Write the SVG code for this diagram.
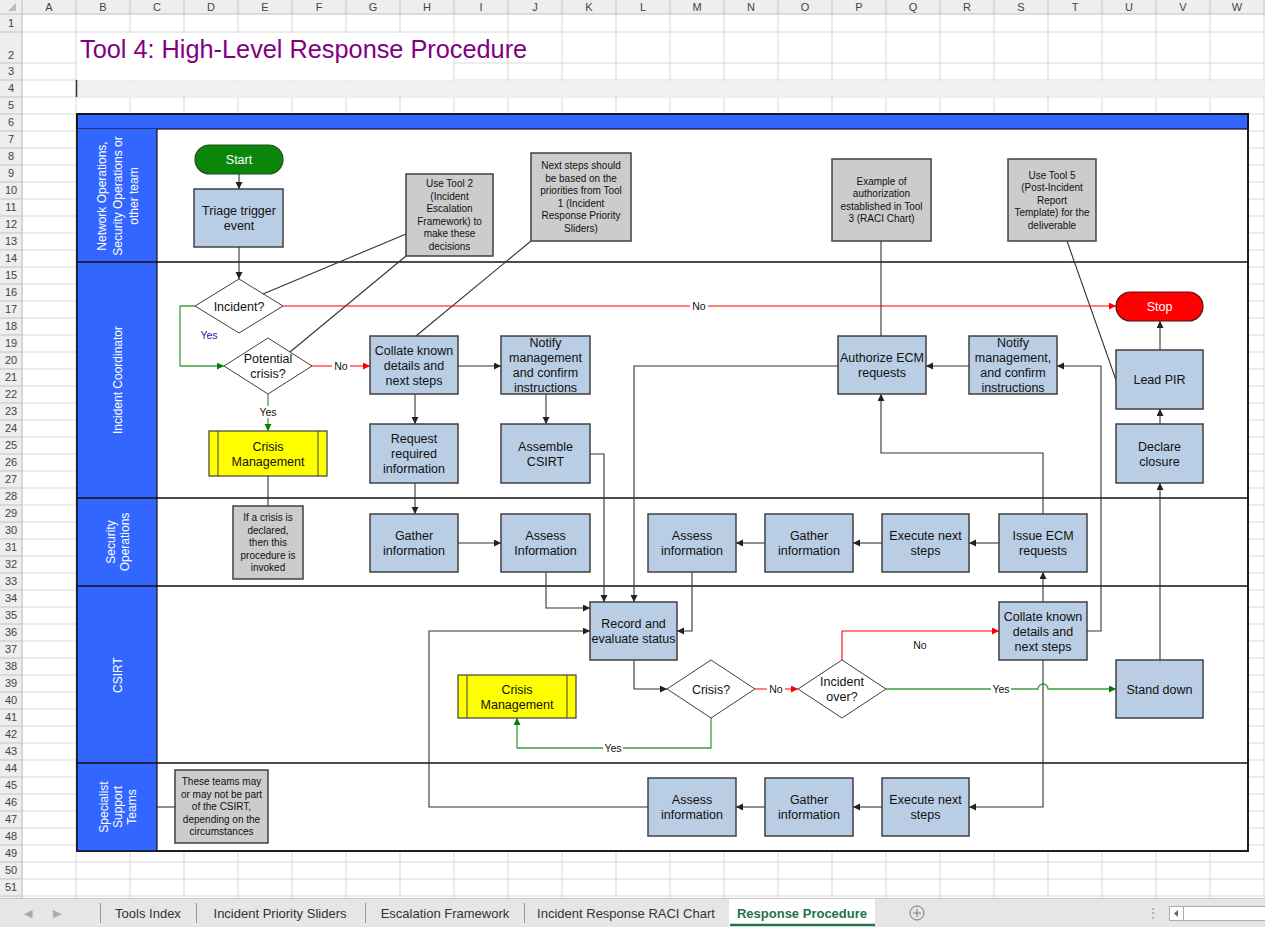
<svg xmlns="http://www.w3.org/2000/svg" width="1265" height="927" viewBox="0 0 1265 927">
<style>
text{font-family:"Liberation Sans",Arial,sans-serif}
.grid line{stroke:#D9D9D9;stroke-width:1}
.hsep line{stroke:#C4C4C4;stroke-width:1}
.hdr{fill:#444;font-size:11px;text-anchor:middle}
.box{fill:#B9CDE5;stroke:#404040;stroke-width:1.5}
.note{fill:#CCCCCC;stroke:#404040;stroke-width:1.5}
.dia{fill:#FFFFFF;stroke:#404040;stroke-width:1}
.yel{fill:#FFFF00;stroke:#404040;stroke-width:1.2}
.t{font-size:12.5px;fill:#111;text-anchor:middle}
.nt{font-size:10px;fill:#111;text-anchor:middle}
.lane{fill:#3366FF}
.lt{font-size:12px;fill:#FFFFFF;text-anchor:middle}
.c{fill:none;stroke:#333;stroke-width:1.1}
.cr{fill:none;stroke:#FF0000;stroke-width:1.1}
.cg{fill:none;stroke:#3CA03C;stroke-width:1.3}
.lbl{font-size:10.5px;fill:#111;text-anchor:middle}
.tab{font-size:13px;fill:#333;text-anchor:middle}
</style>
<defs>
<marker id="ab" markerUnits="userSpaceOnUse" markerWidth="8" markerHeight="8" refX="7" refY="3.5" orient="auto"><path d="M0,0 L7,3.5 L0,7 z" fill="#222"/></marker>
<marker id="ar" markerUnits="userSpaceOnUse" markerWidth="8" markerHeight="8" refX="7" refY="3.5" orient="auto"><path d="M0,0 L7,3.5 L0,7 z" fill="#FF0000"/></marker>
<marker id="ag" markerUnits="userSpaceOnUse" markerWidth="8" markerHeight="8" refX="7" refY="3.5" orient="auto"><path d="M0,0 L7,3.5 L0,7 z" fill="#008000"/></marker>
</defs>

<!-- spreadsheet background -->
<rect x="0" y="0" width="1265" height="927" fill="#FFFFFF"/>
<g class="grid">
<line x1="22" y1="14" x2="22" y2="898"/><line x1="76" y1="14" x2="76" y2="898"/><line x1="130" y1="14" x2="130" y2="898"/><line x1="184" y1="14" x2="184" y2="898"/><line x1="238" y1="14" x2="238" y2="898"/><line x1="292" y1="14" x2="292" y2="898"/><line x1="346" y1="14" x2="346" y2="898"/><line x1="400" y1="14" x2="400" y2="898"/><line x1="454" y1="14" x2="454" y2="898"/><line x1="508" y1="14" x2="508" y2="898"/><line x1="562" y1="14" x2="562" y2="898"/><line x1="616" y1="14" x2="616" y2="898"/><line x1="670" y1="14" x2="670" y2="898"/><line x1="724" y1="14" x2="724" y2="898"/><line x1="778" y1="14" x2="778" y2="898"/><line x1="832" y1="14" x2="832" y2="898"/><line x1="886" y1="14" x2="886" y2="898"/><line x1="940" y1="14" x2="940" y2="898"/><line x1="994" y1="14" x2="994" y2="898"/><line x1="1048" y1="14" x2="1048" y2="898"/><line x1="1102" y1="14" x2="1102" y2="898"/><line x1="1156" y1="14" x2="1156" y2="898"/><line x1="1210" y1="14" x2="1210" y2="898"/><line x1="1264" y1="14" x2="1264" y2="898"/>
<line x1="0" y1="32" x2="1265" y2="32"/><line x1="0" y1="63" x2="1265" y2="63"/><line x1="0" y1="80" x2="1265" y2="80"/><line x1="0" y1="97" x2="1265" y2="97"/><line x1="0" y1="114" x2="1265" y2="114"/><line x1="0" y1="131" x2="1265" y2="131"/><line x1="0" y1="148" x2="1265" y2="148"/><line x1="0" y1="165" x2="1265" y2="165"/><line x1="0" y1="182" x2="1265" y2="182"/><line x1="0" y1="199" x2="1265" y2="199"/><line x1="0" y1="216" x2="1265" y2="216"/><line x1="0" y1="233" x2="1265" y2="233"/><line x1="0" y1="250" x2="1265" y2="250"/><line x1="0" y1="267" x2="1265" y2="267"/><line x1="0" y1="284" x2="1265" y2="284"/><line x1="0" y1="301" x2="1265" y2="301"/><line x1="0" y1="318" x2="1265" y2="318"/><line x1="0" y1="335" x2="1265" y2="335"/><line x1="0" y1="352" x2="1265" y2="352"/><line x1="0" y1="369" x2="1265" y2="369"/><line x1="0" y1="386" x2="1265" y2="386"/><line x1="0" y1="403" x2="1265" y2="403"/><line x1="0" y1="420" x2="1265" y2="420"/><line x1="0" y1="437" x2="1265" y2="437"/><line x1="0" y1="454" x2="1265" y2="454"/><line x1="0" y1="471" x2="1265" y2="471"/><line x1="0" y1="488" x2="1265" y2="488"/><line x1="0" y1="505" x2="1265" y2="505"/><line x1="0" y1="522" x2="1265" y2="522"/><line x1="0" y1="539" x2="1265" y2="539"/><line x1="0" y1="556" x2="1265" y2="556"/><line x1="0" y1="573" x2="1265" y2="573"/><line x1="0" y1="590" x2="1265" y2="590"/><line x1="0" y1="607" x2="1265" y2="607"/><line x1="0" y1="624" x2="1265" y2="624"/><line x1="0" y1="641" x2="1265" y2="641"/><line x1="0" y1="658" x2="1265" y2="658"/><line x1="0" y1="675" x2="1265" y2="675"/><line x1="0" y1="692" x2="1265" y2="692"/><line x1="0" y1="709" x2="1265" y2="709"/><line x1="0" y1="726" x2="1265" y2="726"/><line x1="0" y1="743" x2="1265" y2="743"/><line x1="0" y1="760" x2="1265" y2="760"/><line x1="0" y1="777" x2="1265" y2="777"/><line x1="0" y1="794" x2="1265" y2="794"/><line x1="0" y1="811" x2="1265" y2="811"/><line x1="0" y1="828" x2="1265" y2="828"/><line x1="0" y1="845" x2="1265" y2="845"/><line x1="0" y1="862" x2="1265" y2="862"/><line x1="0" y1="879" x2="1265" y2="879"/><line x1="0" y1="896" x2="1265" y2="896"/>
</g>
<!-- title merged cell and row 4 band -->
<rect x="77" y="33" width="376" height="47" fill="#FFFFFF"/>
<rect x="77" y="81" width="1188" height="16" fill="#F0F0F0"/>
<line x1="76.5" y1="80" x2="76.5" y2="97" stroke="#333" stroke-width="1.5"/>
<text x="80" y="57.5" font-size="25.3" fill="#800080">Tool 4: High-Level Response Procedure</text>

<!-- headers -->
<rect x="0" y="0" width="1265" height="14" fill="#EEEEEE"/>
<rect x="0" y="14" width="22" height="884" fill="#EEEEEE"/>
<g class="hsep">
<line x1="76" y1="0" x2="76" y2="14"/><line x1="130" y1="0" x2="130" y2="14"/><line x1="184" y1="0" x2="184" y2="14"/><line x1="238" y1="0" x2="238" y2="14"/><line x1="292" y1="0" x2="292" y2="14"/><line x1="346" y1="0" x2="346" y2="14"/><line x1="400" y1="0" x2="400" y2="14"/><line x1="454" y1="0" x2="454" y2="14"/><line x1="508" y1="0" x2="508" y2="14"/><line x1="562" y1="0" x2="562" y2="14"/><line x1="616" y1="0" x2="616" y2="14"/><line x1="670" y1="0" x2="670" y2="14"/><line x1="724" y1="0" x2="724" y2="14"/><line x1="778" y1="0" x2="778" y2="14"/><line x1="832" y1="0" x2="832" y2="14"/><line x1="886" y1="0" x2="886" y2="14"/><line x1="940" y1="0" x2="940" y2="14"/><line x1="994" y1="0" x2="994" y2="14"/><line x1="1048" y1="0" x2="1048" y2="14"/><line x1="1102" y1="0" x2="1102" y2="14"/><line x1="1156" y1="0" x2="1156" y2="14"/><line x1="1210" y1="0" x2="1210" y2="14"/><line x1="1264" y1="0" x2="1264" y2="14"/>
<line x1="0" y1="32" x2="22" y2="32"/><line x1="0" y1="63" x2="22" y2="63"/><line x1="0" y1="80" x2="22" y2="80"/><line x1="0" y1="97" x2="22" y2="97"/><line x1="0" y1="114" x2="22" y2="114"/><line x1="0" y1="131" x2="22" y2="131"/><line x1="0" y1="148" x2="22" y2="148"/><line x1="0" y1="165" x2="22" y2="165"/><line x1="0" y1="182" x2="22" y2="182"/><line x1="0" y1="199" x2="22" y2="199"/><line x1="0" y1="216" x2="22" y2="216"/><line x1="0" y1="233" x2="22" y2="233"/><line x1="0" y1="250" x2="22" y2="250"/><line x1="0" y1="267" x2="22" y2="267"/><line x1="0" y1="284" x2="22" y2="284"/><line x1="0" y1="301" x2="22" y2="301"/><line x1="0" y1="318" x2="22" y2="318"/><line x1="0" y1="335" x2="22" y2="335"/><line x1="0" y1="352" x2="22" y2="352"/><line x1="0" y1="369" x2="22" y2="369"/><line x1="0" y1="386" x2="22" y2="386"/><line x1="0" y1="403" x2="22" y2="403"/><line x1="0" y1="420" x2="22" y2="420"/><line x1="0" y1="437" x2="22" y2="437"/><line x1="0" y1="454" x2="22" y2="454"/><line x1="0" y1="471" x2="22" y2="471"/><line x1="0" y1="488" x2="22" y2="488"/><line x1="0" y1="505" x2="22" y2="505"/><line x1="0" y1="522" x2="22" y2="522"/><line x1="0" y1="539" x2="22" y2="539"/><line x1="0" y1="556" x2="22" y2="556"/><line x1="0" y1="573" x2="22" y2="573"/><line x1="0" y1="590" x2="22" y2="590"/><line x1="0" y1="607" x2="22" y2="607"/><line x1="0" y1="624" x2="22" y2="624"/><line x1="0" y1="641" x2="22" y2="641"/><line x1="0" y1="658" x2="22" y2="658"/><line x1="0" y1="675" x2="22" y2="675"/><line x1="0" y1="692" x2="22" y2="692"/><line x1="0" y1="709" x2="22" y2="709"/><line x1="0" y1="726" x2="22" y2="726"/><line x1="0" y1="743" x2="22" y2="743"/><line x1="0" y1="760" x2="22" y2="760"/><line x1="0" y1="777" x2="22" y2="777"/><line x1="0" y1="794" x2="22" y2="794"/><line x1="0" y1="811" x2="22" y2="811"/><line x1="0" y1="828" x2="22" y2="828"/><line x1="0" y1="845" x2="22" y2="845"/><line x1="0" y1="862" x2="22" y2="862"/><line x1="0" y1="879" x2="22" y2="879"/><line x1="0" y1="896" x2="22" y2="896"/>
</g>
<line x1="0" y1="14" x2="1265" y2="14" stroke="#C0C0C0"/>
<line x1="22" y1="0" x2="22" y2="898" stroke="#C0C0C0"/>
<path d="M16,3 L16,11 L8,11 z" fill="#BDBDBD"/>
<g class="hdr">
<text x="49" y="11">A</text><text x="103" y="11">B</text><text x="157" y="11">C</text><text x="211" y="11">D</text><text x="265" y="11">E</text><text x="319" y="11">F</text><text x="373" y="11">G</text><text x="427" y="11">H</text><text x="481" y="11">I</text><text x="535" y="11">J</text><text x="589" y="11">K</text><text x="643" y="11">L</text><text x="697" y="11">M</text><text x="751" y="11">N</text><text x="805" y="11">O</text><text x="859" y="11">P</text><text x="913" y="11">Q</text><text x="967" y="11">R</text><text x="1021" y="11">S</text><text x="1075" y="11">T</text><text x="1129" y="11">U</text><text x="1183" y="11">V</text><text x="1237" y="11">W</text>
<text x="11" y="27">1</text><text x="11" y="59">2</text><text x="11" y="75">3</text><text x="11" y="92">4</text><text x="11" y="109">5</text><text x="11" y="126">6</text><text x="11" y="143">7</text><text x="11" y="160">8</text><text x="11" y="177">9</text><text x="11" y="194">10</text><text x="11" y="211">11</text><text x="11" y="228">12</text><text x="11" y="245">13</text><text x="11" y="262">14</text><text x="11" y="279">15</text><text x="11" y="296">16</text><text x="11" y="313">17</text><text x="11" y="330">18</text><text x="11" y="347">19</text><text x="11" y="364">20</text><text x="11" y="381">21</text><text x="11" y="398">22</text><text x="11" y="415">23</text><text x="11" y="432">24</text><text x="11" y="449">25</text><text x="11" y="466">26</text><text x="11" y="483">27</text><text x="11" y="500">28</text><text x="11" y="517">29</text><text x="11" y="534">30</text><text x="11" y="551">31</text><text x="11" y="568">32</text><text x="11" y="585">33</text><text x="11" y="602">34</text><text x="11" y="619">35</text><text x="11" y="636">36</text><text x="11" y="653">37</text><text x="11" y="670">38</text><text x="11" y="687">39</text><text x="11" y="704">40</text><text x="11" y="721">41</text><text x="11" y="738">42</text><text x="11" y="755">43</text><text x="11" y="772">44</text><text x="11" y="789">45</text><text x="11" y="806">46</text><text x="11" y="823">47</text><text x="11" y="840">48</text><text x="11" y="857">49</text><text x="11" y="874">50</text><text x="11" y="891">51</text>
</g>

<!-- pool and lanes -->
<g id="pool">
<rect x="77" y="114" width="1171" height="737" fill="#FFFFFF" stroke="#111" stroke-width="1.5"/>
<rect x="77" y="114" width="1171" height="15" fill="#3366FF" stroke="#111" stroke-width="1.2"/>
<rect class="lane" x="77" y="129" width="80" height="722"/>
<line x1="157" y1="129" x2="157" y2="851" stroke="#111" stroke-width="1.2"/>
<line x1="77" y1="262" x2="1248" y2="262" stroke="#111" stroke-width="1.5"/>
<line x1="77" y1="498" x2="1248" y2="498" stroke="#111" stroke-width="1.5"/>
<line x1="77" y1="586" x2="1248" y2="586" stroke="#111" stroke-width="1.5"/>
<line x1="77" y1="763" x2="1248" y2="763" stroke="#111" stroke-width="1.5"/>
<rect x="77" y="114" width="1171" height="737" fill="none" stroke="#111" stroke-width="1.5"/>
<text class="lt" transform="translate(117,196) rotate(-90)"><tspan x="0" y="-11.5">Network Operations,</tspan><tspan x="0" y="4.5">Security Operations or</tspan><tspan x="0" y="20.5">other team</tspan></text>
<text class="lt" transform="translate(117,380) rotate(-90)"><tspan x="0" y="4.5">Incident Coordinator</tspan></text>
<text class="lt" transform="translate(117,542) rotate(-90)"><tspan x="0" y="-2.5">Security</tspan><tspan x="0" y="11.5">Operations</tspan></text>
<text class="lt" transform="translate(117,675) rotate(-90)"><tspan x="0" y="4.5">CSIRT</tspan></text>
<text class="lt" transform="translate(117,807) rotate(-90)"><tspan x="0" y="-9.5">Specialist</tspan><tspan x="0" y="4.5">Support</tspan><tspan x="0" y="18.5">Teams</tspan></text>
</g>

<!-- connectors -->
<g id="connectors">
<path class="c" d="M239,174 V189" marker-end="url(#ab)"/>
<path class="c" d="M239,247 V279" marker-end="url(#ab)"/>
<path class="c" d="M406,234 L263,294"/>
<path class="c" d="M406,256 L290,352"/>
<path class="c" d="M531,241 L416,336"/>
<path class="c" d="M881,241 V336"/>
<path class="c" d="M1067,241 L1116,380"/>
<path class="cg" d="M196,306 H180 V366 H224" marker-end="url(#ag)"/>
<path class="cr" d="M283,306 H1116" marker-end="url(#ar)"/>
<path class="cr" d="M311,366 H370" marker-end="url(#ar)"/>
<path class="cg" d="M268,394 V431" marker-end="url(#ag)"/>
<path class="c" d="M268,476 V506"/>
<path class="c" d="M458,366 H501" marker-end="url(#ab)"/>
<path class="c" d="M415,394 V424" marker-end="url(#ab)"/>
<path class="c" d="M546,394 V424" marker-end="url(#ab)"/>
<path class="c" d="M415,483 V514" marker-end="url(#ab)"/>
<path class="c" d="M458,543 H501" marker-end="url(#ab)"/>
<path class="c" d="M546,572 V608 H590" marker-end="url(#ab)"/>
<path class="c" d="M590,454 H604 V602" marker-end="url(#ab)"/>
<path class="c" d="M838,366 H634 V602" marker-end="url(#ab)"/>
<path class="c" d="M692,572 V631 H677" marker-end="url(#ab)"/>
<path class="c" d="M648,807 H429 V631 H590" marker-end="url(#ab)"/>
<path class="c" d="M634,660 V689 H667" marker-end="url(#ab)"/>
<path class="cr" d="M755,689 H798" marker-end="url(#ar)"/>
<path class="cg" d="M711,718 V748 H517 V718" marker-end="url(#ag)"/>
<path class="cr" d="M842,660 V631 H999" marker-end="url(#ar)"/>
<path class="cg" d="M886,689 H1038 A5,5 0 0 1 1048,689 H1116" marker-end="url(#ag)"/>
<path class="c" d="M1043,602 V572" marker-end="url(#ab)"/>
<path class="c" d="M1043,660 V807 H969" marker-end="url(#ab)"/>
<path class="c" d="M1087,631 H1101 V366 H1057" marker-end="url(#ab)"/>
<path class="c" d="M969,366 H926" marker-end="url(#ab)"/>
<path class="c" d="M1043,514 V453 H881 V394" marker-end="url(#ab)"/>
<path class="c" d="M999,543 H969" marker-end="url(#ab)"/>
<path class="c" d="M882,543 H853" marker-end="url(#ab)"/>
<path class="c" d="M765,543 H736" marker-end="url(#ab)"/>
<path class="c" d="M882,807 H853" marker-end="url(#ab)"/>
<path class="c" d="M765,807 H736" marker-end="url(#ab)"/>
<path class="c" d="M1160,660 V483" marker-end="url(#ab)"/>
<path class="c" d="M1160,424 V409" marker-end="url(#ab)"/>
<path class="c" d="M1160,350 V321" marker-end="url(#ab)"/>
<path class="c" d="M157,807 H175"/>
<!-- labels -->
<rect x="690" y="300" width="18" height="12" fill="#FFFFFF"/><text class="lbl" x="699" y="310">No</text>
<rect x="332" y="360" width="18" height="12" fill="#FFFFFF"/><text class="lbl" x="341" y="370">No</text>
<rect x="258" y="406" width="20" height="12" fill="#FFFFFF"/><text class="lbl" x="268" y="416">Yes</text>
<text x="209" y="339" font-size="10.5" fill="#1A1AA6" text-anchor="middle">Yes</text>
<rect x="767" y="683" width="18" height="12" fill="#FFFFFF"/><text class="lbl" x="776" y="693">No</text>
<rect x="603" y="742" width="20" height="12" fill="#FFFFFF"/><text class="lbl" x="613" y="752">Yes</text>
<text class="lbl" x="920" y="649">No</text>
<rect x="991" y="683" width="20" height="12" fill="#FFFFFF"/><text class="lbl" x="1001" y="693">Yes</text>
</g>

<!-- nodes -->
<g id="start"><rect x="195" y="145" width="88" height="29" rx="14.5" fill="#0A870A" stroke="#1F4F1F" stroke-width="1.2"/><text class="t" x="239" y="164" style="fill:#FFFFFF">Start</text></g>
<g id="triage"><rect class="box" x="194" y="189" width="89" height="58"/><text class="t"><tspan x="239" y="215">Triage trigger</tspan><tspan x="239" y="230">event</tspan></text></g>
<g id="note-tool2"><rect class="note" x="406" y="174" width="87" height="82"/><text class="nt"><tspan x="449.5" y="187.4">Use Tool 2</tspan><tspan x="449.5" y="199.9">(Incident</tspan><tspan x="449.5" y="212.4">Escalation</tspan><tspan x="449.5" y="224.9">Framework) to</tspan><tspan x="449.5" y="237.4">make these</tspan><tspan x="449.5" y="249.9">decisions</tspan></text></g>
<g id="note-tool1"><rect class="note" x="531" y="153" width="100" height="88"/><text class="nt"><tspan x="581" y="169.4">Next steps should</tspan><tspan x="581" y="181.9">be based on the</tspan><tspan x="581" y="194.4">priorities from Tool</tspan><tspan x="581" y="206.9">1 (Incident</tspan><tspan x="581" y="219.4">Response Priority</tspan><tspan x="581" y="231.9">Sliders)</tspan></text></g>
<g id="note-tool3"><rect class="note" x="832" y="159" width="99" height="82"/><text class="nt"><tspan x="881.5" y="184.9">Example of</tspan><tspan x="881.5" y="197.4">authorization</tspan><tspan x="881.5" y="209.9">established in Tool</tspan><tspan x="881.5" y="222.4">3 (RACI Chart)</tspan></text></g>
<g id="note-tool5"><rect class="note" x="1008" y="159" width="88" height="82"/><text class="nt"><tspan x="1052" y="178.6">Use Tool 5</tspan><tspan x="1052" y="191.1">(Post-Incident</tspan><tspan x="1052" y="203.6">Report</tspan><tspan x="1052" y="216.1">Template) for the</tspan><tspan x="1052" y="228.6">deliverable</tspan></text></g>

<g id="incident-q"><path class="dia" d="M239,279 L283,306 L239,333 L195,306 z"/><text class="t" x="239" y="310.5">Incident?</text></g>
<g id="potential-crisis"><path class="dia" d="M268,338 L312,366 L268,394 L224,366 z"/><text class="t"><tspan x="268" y="363">Potential</tspan><tspan x="268" y="378">crisis?</tspan></text></g>
<g id="stop"><rect x="1116" y="292" width="87" height="29" rx="14.5" fill="#FF0000" stroke="#5A1010" stroke-width="1.2"/><text class="t" x="1159.5" y="311" style="fill:#FFFFFF">Stop</text></g>
<g id="crisis-mgmt-1"><rect class="yel" x="209" y="431" width="118" height="45"/><line x1="218" y1="431" x2="218" y2="476" stroke="#404040"/><line x1="318" y1="431" x2="318" y2="476" stroke="#404040"/><text class="t"><tspan x="268" y="450.5">Crisis</tspan><tspan x="268" y="465.5">Management</tspan></text></g>
<g id="collate-1"><rect class="box" x="370" y="336" width="88" height="58"/><text class="t"><tspan x="414" y="354.5">Collate known</tspan><tspan x="414" y="369.5">details and</tspan><tspan x="414" y="384.5">next steps</tspan></text></g>
<g id="notify-1"><rect class="box" x="501" y="336" width="89" height="58"/><text class="t"><tspan x="545.5" y="347">Notify</tspan><tspan x="545.5" y="362">management</tspan><tspan x="545.5" y="377">and confirm</tspan><tspan x="545.5" y="392">instructions</tspan></text></g>
<g id="request"><rect class="box" x="370" y="424" width="88" height="59"/><text class="t"><tspan x="414" y="443">Request</tspan><tspan x="414" y="458">required</tspan><tspan x="414" y="473">information</tspan></text></g>
<g id="assemble"><rect class="box" x="501" y="424" width="89" height="59"/><text class="t"><tspan x="545.5" y="450.5">Assemble</tspan><tspan x="545.5" y="465.5">CSIRT</tspan></text></g>
<g id="authorize"><rect class="box" x="838" y="336" width="88" height="58"/><text class="t"><tspan x="882" y="362">Authorize ECM</tspan><tspan x="882" y="377">requests</tspan></text></g>
<g id="notify-2"><rect class="box" x="969" y="336" width="88" height="58"/><text class="t"><tspan x="1013" y="347">Notify</tspan><tspan x="1013" y="362">management,</tspan><tspan x="1013" y="377">and confirm</tspan><tspan x="1013" y="392">instructions</tspan></text></g>
<g id="lead-pir"><rect class="box" x="1116" y="350" width="87" height="59"/><text class="t" x="1159.5" y="384">Lead PIR</text></g>
<g id="declare"><rect class="box" x="1116" y="424" width="87" height="59"/><text class="t"><tspan x="1159.5" y="450.5">Declare</tspan><tspan x="1159.5" y="465.5">closure</tspan></text></g>

<g id="note-crisis"><rect class="note" x="233" y="506" width="70" height="73"/><text class="nt"><tspan x="268" y="521.1">If a crisis is</tspan><tspan x="268" y="533.6">declared,</tspan><tspan x="268" y="546.1">then this</tspan><tspan x="268" y="558.6">procedure is</tspan><tspan x="268" y="571.1">invoked</tspan></text></g>
<g id="gather-1"><rect class="box" x="370" y="514" width="88" height="58"/><text class="t"><tspan x="414" y="540">Gather</tspan><tspan x="414" y="555">information</tspan></text></g>
<g id="assess-1"><rect class="box" x="501" y="514" width="89" height="58"/><text class="t"><tspan x="545.5" y="540">Assess</tspan><tspan x="545.5" y="555">Information</tspan></text></g>
<g id="assess-2"><rect class="box" x="648" y="514" width="88" height="58"/><text class="t"><tspan x="692" y="540">Assess</tspan><tspan x="692" y="555">information</tspan></text></g>
<g id="gather-2"><rect class="box" x="765" y="514" width="88" height="58"/><text class="t"><tspan x="809" y="540">Gather</tspan><tspan x="809" y="555">information</tspan></text></g>
<g id="execute-1"><rect class="box" x="882" y="514" width="87" height="58"/><text class="t"><tspan x="925.5" y="540">Execute next</tspan><tspan x="925.5" y="555">steps</tspan></text></g>
<g id="issue-ecm"><rect class="box" x="999" y="514" width="88" height="58"/><text class="t"><tspan x="1043" y="540">Issue ECM</tspan><tspan x="1043" y="555">requests</tspan></text></g>

<g id="record"><rect class="box" x="590" y="602" width="87" height="58"/><text class="t"><tspan x="633.5" y="628">Record and</tspan><tspan x="633.5" y="643">evaluate status</tspan></text></g>
<g id="crisis-q"><path class="dia" d="M711,660 L755,689 L711,718 L667,689 z"/><text class="t" x="711" y="693.5">Crisis?</text></g>
<g id="incident-over"><path class="dia" d="M842,660 L886,689 L842,718 L798,689 z"/><text class="t"><tspan x="842" y="686">Incident</tspan><tspan x="842" y="701">over?</tspan></text></g>
<g id="collate-2"><rect class="box" x="999" y="602" width="88" height="58"/><text class="t"><tspan x="1043" y="620.5">Collate known</tspan><tspan x="1043" y="635.5">details and</tspan><tspan x="1043" y="650.5">next steps</tspan></text></g>
<g id="stand-down"><rect class="box" x="1116" y="660" width="87" height="58"/><text class="t" x="1159.5" y="693.5">Stand down</text></g>
<g id="crisis-mgmt-2"><rect class="yel" x="458" y="675" width="118" height="43"/><line x1="467" y1="675" x2="467" y2="718" stroke="#404040"/><line x1="567" y1="675" x2="567" y2="718" stroke="#404040"/><text class="t"><tspan x="517" y="693.5">Crisis</tspan><tspan x="517" y="708.5">Management</tspan></text></g>

<g id="note-specialist"><rect class="note" x="175" y="770" width="93" height="73"/><text class="nt"><tspan x="221.5" y="785.1">These teams may</tspan><tspan x="221.5" y="797.6">or may not be part</tspan><tspan x="221.5" y="810.1">of the CSIRT,</tspan><tspan x="221.5" y="822.6">depending on the</tspan><tspan x="221.5" y="835.1">circumstances</tspan></text></g>
<g id="assess-3"><rect class="box" x="648" y="778" width="88" height="58"/><text class="t"><tspan x="692" y="804">Assess</tspan><tspan x="692" y="819">information</tspan></text></g>
<g id="gather-3"><rect class="box" x="765" y="778" width="88" height="58"/><text class="t"><tspan x="809" y="804">Gather</tspan><tspan x="809" y="819">information</tspan></text></g>
<g id="execute-3"><rect class="box" x="882" y="778" width="87" height="58"/><text class="t"><tspan x="925.5" y="804">Execute next</tspan><tspan x="925.5" y="819">steps</tspan></text></g>

<!-- sheet tab bar -->
<g id="tabs">
<rect x="0" y="898" width="1265" height="29" fill="#E6E6E6"/>
<line x1="0" y1="898.5" x2="1265" y2="898.5" stroke="#C6C6C6"/>
<text x="28" y="917" font-size="11" fill="#AAAAAA" text-anchor="middle">◀</text>
<text x="57" y="917" font-size="11" fill="#AAAAAA" text-anchor="middle">▶</text>
<line x1="100.5" y1="903" x2="100.5" y2="923" stroke="#9A9A9A"/>
<line x1="196.5" y1="903" x2="196.5" y2="923" stroke="#9A9A9A"/>
<line x1="365.5" y1="903" x2="365.5" y2="923" stroke="#9A9A9A"/>
<line x1="524.5" y1="903" x2="524.5" y2="923" stroke="#9A9A9A"/>
<text class="tab" x="148" y="918">Tools Index</text>
<text class="tab" x="280" y="918">Incident Priority Sliders</text>
<text class="tab" x="445" y="918">Escalation Framework</text>
<text class="tab" x="626" y="918">Incident Response RACI Chart</text>
<rect x="729" y="899" width="146" height="28" fill="#FFFFFF"/>
<line x1="730" y1="925" x2="875" y2="925" stroke="#217346" stroke-width="2.5"/>
<text class="tab" x="802" y="918" font-weight="bold" style="fill:#217346">Response Procedure</text>
<circle cx="917" cy="913" r="7" fill="none" stroke="#777" stroke-width="1"/>
<path d="M917,909 V917 M913,913 H921" stroke="#777" stroke-width="1"/>
<text x="1153" y="917" font-size="12" fill="#999" text-anchor="middle">⋮</text>
<rect x="1169.5" y="906.5" width="96" height="14" fill="#FFFFFF" stroke="#ABABAB"/>
<line x1="1183.5" y1="906.5" x2="1183.5" y2="920.5" stroke="#ABABAB"/>
<path d="M1178,910 L1174,913.5 L1178,917 z" fill="#666"/>
</g>
</svg>
